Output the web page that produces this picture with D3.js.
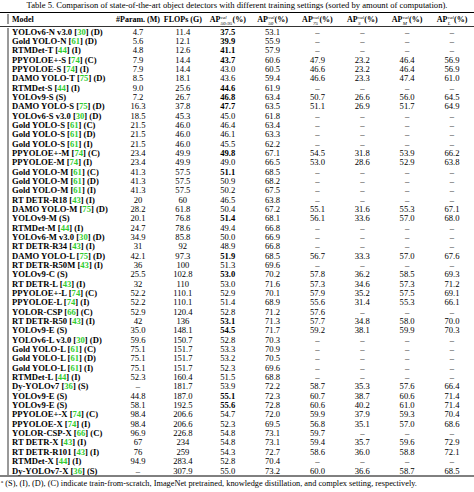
<!DOCTYPE html>
<html><head><meta charset="utf-8">
<script src="https://cdn.jsdelivr.net/npm/d3@7"></script>
<style>body{margin:0;background:#fff}svg{display:block;font-family:"Liberation Serif",serif}</style>
</head><body><svg id="c" width="474" height="492"></svg>
<script>
const models=[["YOLOv6-N v3.0 ","30"," (D)"],["Gold YOLO-N ","61"," (D)"],["RTMDet-T ","44"," (I)"],["PPYOLOE+-S ","74"," (C)"],["PPYOLOE-S ","74"," (I)"],["DAMO YOLO-T ","75"," (D)"],["RTMDet-S ","44"," (I)"],["YOLOv9-S (S)","",""],["DAMO YOLO-S ","75"," (D)"],["YOLOv6-S v3.0 ","30"," (D)"],["Gold YOLO-S ","61"," (C)"],["Gold YOLO-S ","61"," (D)"],["Gold YOLO-S ","61"," (I)"],["PPYOLOE+-M ","74"," (C)"],["PPYOLOE-M ","74"," (I)"],["Gold YOLO-M ","61"," (C)"],["Gold YOLO-M ","61"," (D)"],["Gold YOLO-M ","61"," (I)"],["RT DETR-R18 ","43"," (I)"],["DAMO YOLO-M ","75"," (D)"],["YOLOv9-M (S)","",""],["RTMDet-M ","44"," (I)"],["YOLOv6-M v3.0 ","30"," (D)"],["RT DETR-R34 ","43"," (I)"],["DAMO YOLO-L ","75"," (D)"],["RT DETR-R50M ","43"," (I)"],["YOLOv9-C (S)","",""],["RT DETR-L ","43"," (I)"],["PPYOLOE+-L ","74"," (C)"],["PPYOLOE-L ","74"," (I)"],["YOLOR-CSP ","66"," (C)"],["RT DETR-R50 ","43"," (I)"],["YOLOv9-E (S)","",""],["YOLOv6-L v3.0 ","30"," (D)"],["Gold YOLO-L ","61"," (C)"],["Gold YOLO-L ","61"," (D)"],["Gold YOLO-L ","61"," (I)"],["RTMDet-L ","44"," (I)"],["Dy-YOLOv7 ","36"," (S)"],["YOLOv9-E (S)","",""],["YOLOv9-E (S)","",""],["PPYOLOE+-X ","74"," (C)"],["PPYOLOE-X ","74"," (I)"],["YOLOR-CSP-X ","66"," (C)"],["RT DETR-X ","43"," (I)"],["RT DETR-R101 ","43"," (I)"],["RTMDet-X ","44"," (I)"],["Dy-YOLOv7-X ","36"," (S)"]];
const params=["4.7","5.6","4.8","7.9","7.9","8.5","9.0","7.2","16.3","18.5","21.5","21.5","21.5","23.4","23.4","41.3","41.3","41.3","20","28.2","20.1","24.7","34.9","31","42.1","36","25.5","32","52.2","52.2","52.9","42","35.0","59.6","75.1","75.1","75.1","52.3","–","44.8","58.1","98.4","98.4","96.9","67","76","94.9","–"];
const flops=["11.4","12.1","12.6","14.4","14.4","18.1","25.6","26.7","37.8","45.3","46.0","46.0","46.0","49.9","49.9","57.5","57.5","57.5","60","61.8","76.8","78.6","85.8","92","97.3","100","102.8","110","110.1","110.1","120.4","136","148.1","150.7","151.7","151.7","151.7","160.4","181.7","187.0","192.5","206.6","206.6","226.8","234","259","283.4","307.9"];
const ap=["37.5","39.9","41.1","43.7","43.0","43.6","44.6","46.8","47.7","45.0","46.4","46.1","45.5","49.8","49.0","51.1","50.9","50.2","46.5","50.4","51.4","49.4","50.0","48.9","51.9","51.3","53.0","53.0","52.9","51.4","52.8","53.1","54.5","52.8","53.3","53.2","52.3","51.5","53.9","55.1","55.6","54.7","52.3","54.8","54.8","54.3","52.8","55.0"];
const apBold=[0,1,2,3,6,7,8,13,15,20,24,26,31,32,39,40];
const ap50=["53.1","55.9","57.9","60.6","60.5","59.4","61.9","63.4","63.5","61.8","63.4","63.3","62.2","67.1","66.5","68.5","68.2","67.5","63.8","67.2","68.1","66.8","66.9","66.8","68.5","69.6","70.2","71.6","70.1","68.9","71.2","71.3","71.7","70.3","70.9","70.5","69.6","68.8","72.2","72.3","72.8","72.0","69.5","73.1","73.1","72.7","70.4","73.2"];
const D="–";
const ap75=[D,D,D,"47.9","46.6","46.6",D,"50.7","51.1",D,D,D,D,"54.5","53.0",D,D,D,D,"55.1","56.1",D,D,D,"56.7",D,"57.8","57.3","57.9","55.6","57.6","57.7","59.2",D,D,D,D,D,"58.7","60.7","60.6","59.9","56.8","59.7","59.4","58.6",D,"60.0"];
const apS=[D,D,D,"23.2","23.2","23.3",D,"26.6","26.9",D,D,D,D,"31.8","28.6",D,D,D,D,"31.6","33.6",D,D,D,"33.3",D,"36.2","34.6","35.2","31.4",D,"34.8","38.1",D,D,D,D,D,"35.3","38.7","40.2","37.9","35.1",D,"35.7","36.0",D,"36.6"];
const apM=[D,D,D,"46.4","46.4","47.4",D,"56.0","51.7",D,D,D,D,"53.9","52.9",D,D,D,D,"55.3","57.0",D,D,D,"57.0",D,"58.5","57.3","57.5","55.3",D,"58.0","59.9",D,D,D,D,D,"57.6","60.6","61.0","59.3","57.0",D,"59.6","58.8",D,"58.7"];
const apL=[D,D,D,"56.9","56.9","61.0",D,"64.5","64.9",D,D,D,D,"66.2","63.8",D,D,D,D,"67.1","68.0",D,D,D,"67.6",D,"69.3","71.2","69.1","66.1",D,"70.0","70.3",D,D,D,D,D,"66.4","71.4","71.4","70.4","68.6",D,"72.9","72.1",D,"68.5"];
const headers=[["#Param. (M)"],["FLOPs (G)"],["AP","val","50:95"," (%)"],["AP","val","50"," (%)"],["AP","val","75"," (%)"],["AP","val","S"," (%)"],["AP","val","M"," (%)"],["AP","val","L"," (%)"]];

const svg=d3.select("#c");
const fs=8.6;
const y=d3.scalePoint().domain(d3.range(models.length)).range([31.5,470.5]);
const cols=[params,flops,ap,ap50,ap75,apS,apM,apL];
const x=d3.scalePoint().domain(d3.range(cols.length)).range([138,452]);
svg.append("text").attr("x",237).attr("y",8).attr("text-anchor","middle").attr("font-size",8.6).text("Table 5. Comparison of state-of-the-art object detectors with different training settings (sorted by amount of computation).");
const line=(y0,w)=>svg.append("line").attr("x1",0).attr("x2",474).attr("y1",y0).attr("y2",y0).attr("stroke","#000").attr("stroke-width",w);
line(12.5,1);line(26.5,0.8);line(476,1);
svg.append("line").attr("x1",8).attr("x2",8).attr("y1",14).attr("y2",24).attr("stroke","#000").attr("stroke-width",0.8);
svg.append("line").attr("x1",8).attr("x2",8).attr("y1",28).attr("y2",475).attr("stroke","#000").attr("stroke-width",0.8);
svg.append("text").attr("x",12).attr("y",22).attr("font-size",8).attr("font-weight","bold").text("Model");
headers.forEach((h,i)=>{
  const hs=8;
  if(h.length===1){svg.append("text").attr("x",x(i)).attr("y",22).attr("font-size",hs).attr("font-weight","bold").attr("text-anchor","middle").text(h[0]);return;}
  const g=svg.append("g");
  const a=g.append("text").attr("y",22).attr("font-size",hs).attr("font-weight","bold").text(h[0]);
  const sp=g.append("text").attr("y",19).attr("font-size",5).attr("font-style","italic").text(h[1]);
  const sb=g.append("text").attr("y",24.5).attr("font-size",5).attr("font-style","italic").text(h[2]);
  const p=g.append("text").attr("y",22).attr("font-size",hs).attr("font-weight","bold").text(h[3]);
  const wa=a.node().getComputedTextLength(), ws=Math.max(sp.node().getComputedTextLength(),sb.node().getComputedTextLength()), wp=p.node().getComputedTextLength();
  const x0=x(i)-(wa+ws+wp+0.5)/2;
  a.attr("x",x0); sp.attr("x",x0+wa+0.3); sb.attr("x",x0+wa+0.3); p.attr("x",x0+wa+ws+0.5);
});
const rows=svg.append("g").selectAll("g").data(models).join("g").attr("transform",(d,i)=>`translate(0,${y(i)+3})`);
const mt=rows.append("text").attr("x",12).attr("font-size",fs).attr("font-weight","bold");
mt.append("tspan").text(d=>d[0]+(d[1]?"[":""));
mt.append("tspan").attr("fill","#2ecc2e").text(d=>d[1]);
mt.append("tspan").text(d=>(d[1]?"]":"")+d[2]);
cols.forEach((col,ci)=>{
  rows.append("text").attr("x",x(ci)).attr("text-anchor","middle").attr("font-size",fs)
    .attr("font-weight",(d,i)=>ci===2&&apBold.includes(i)?"bold":"normal").text((d,i)=>col[i]);
});
svg.append("text").attr("x",1).attr("y",486).attr("font-size",8.3)
  .html('<tspan font-size="5" dy="-3">a</tspan><tspan dy="3"> (S), (I), (D), (C) indicate train-from-scratch, ImageNet pretrained, knowledge distillation, and complex setting, respectively.</tspan>');
</script></body></html>
